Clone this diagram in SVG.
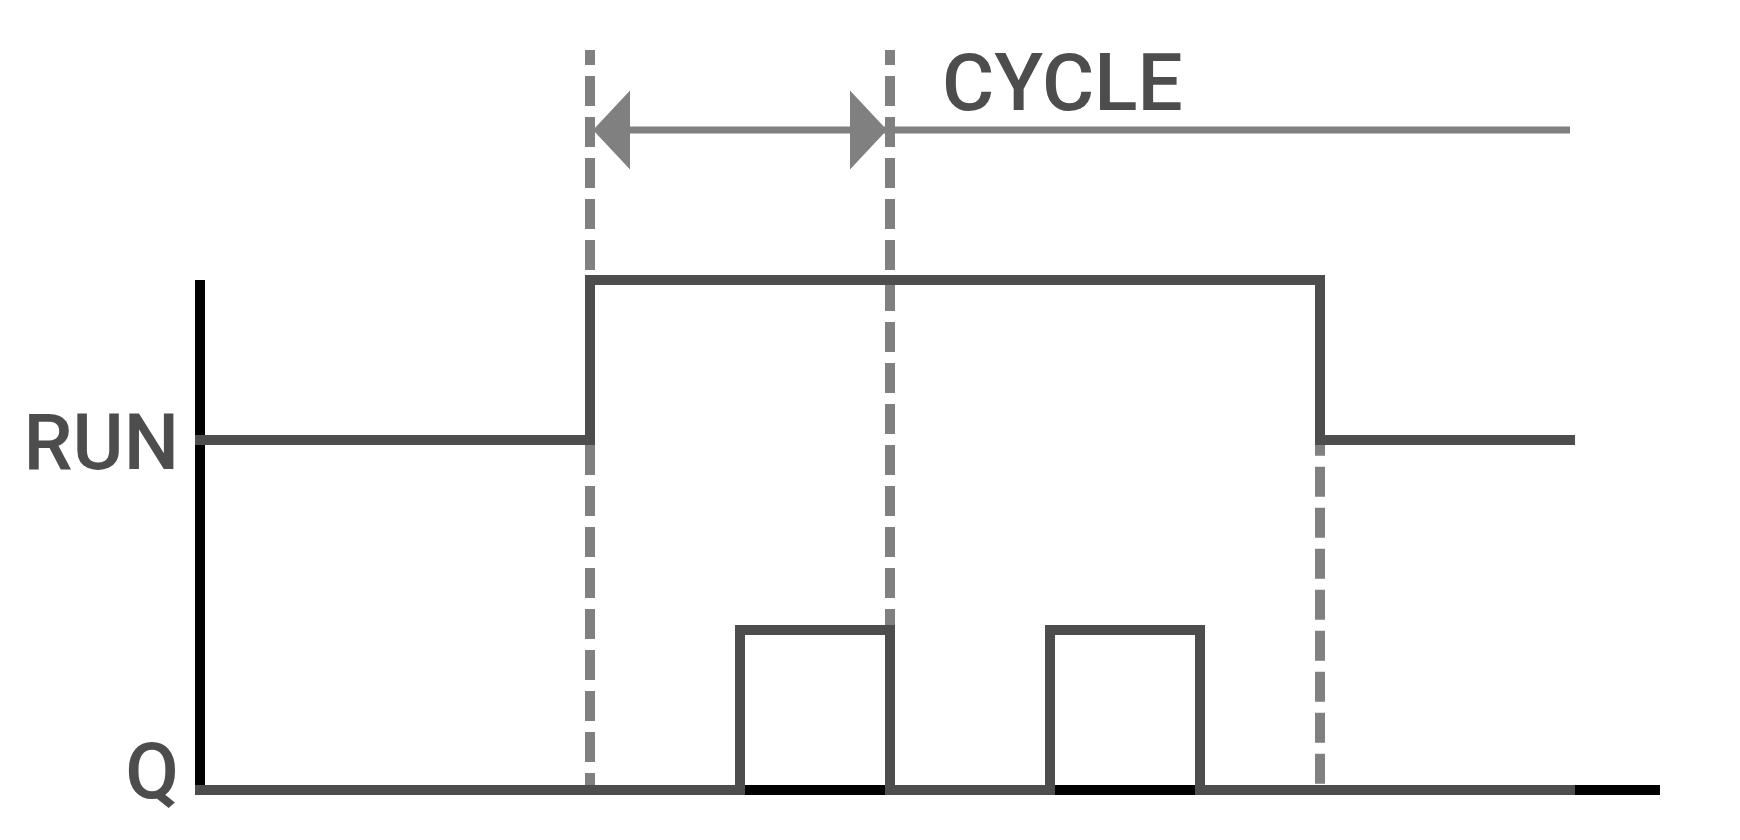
<svg xmlns="http://www.w3.org/2000/svg" width="1740" height="840" viewBox="0 0 1740 840">
  <style>
    .dash { stroke: #808080; stroke-width: 10; fill: none; stroke-dasharray: 30 11; }
    .wave { stroke: #4d4d4d; stroke-width: 10; fill: none; stroke-linejoin: miter; stroke-linecap: butt; }
    .axis { stroke: #000000; stroke-width: 10; fill: none; stroke-linejoin: miter; }
    .label { font-family: Roboto, "Liberation Sans", sans-serif; font-weight: 500; fill: #4d4d4d; }
    .arrow { stroke: #808080; stroke-width: 7; fill: none; }
    .head { fill: #808080; }
  </style>
  <rect x="0" y="0" width="1740" height="840" fill="#ffffff"/>
  <g id="markers">
    <line class="dash" x1="590" y1="50" x2="590" y2="790" stroke-dashoffset="15"/>
    <line class="dash" x1="890" y1="50" x2="890" y2="630" stroke-dashoffset="15"/>
    <line class="dash" x1="1320" y1="280" x2="1320" y2="786" stroke-dashoffset="18.3"/>
  </g>
  <g id="axis">
    <polyline class="axis" points="200,280 200,790 1660,790"/>
  </g>
  <g id="run-signal">
    <polyline class="wave" points="195,440 590,440 590,280 1320,280 1320,440 1575,440"/>
  </g>
  <g id="q-signal">
    <polyline class="wave" points="195,790 740,790 740,630 890,630 890,790 1050,790 1050,630 1200,630 1200,790 1575,790"/>
  </g>
  <g id="connectors">
    <line class="arrow" x1="600" y1="130" x2="1570" y2="130"/>
    <polygon class="head" points="593,130 630,90.5 630,169.5"/>
    <polygon class="head" points="887,130 850,90.5 850,169.5"/>
  </g>
  <g id="label-cycle">
    <text class="label" x="942" y="110" font-size="80">CYCLE</text>
  </g>
  <g id="label-run">
    <text class="label" x="179" y="469" font-size="78" text-anchor="end">RUN</text>
  </g>
  <g id="label-q">
    <text class="label" x="179" y="798" font-size="78" text-anchor="end">Q</text>
  </g>
</svg>
